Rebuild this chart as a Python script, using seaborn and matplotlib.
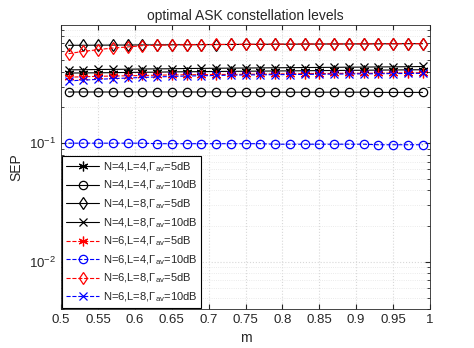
import numpy as np
import pandas as pd
import matplotlib
matplotlib.use("Agg")
import matplotlib.pyplot as plt
import seaborn as sns
from matplotlib.ticker import LogLocator, NullFormatter

sns.set_style("ticks")
plt.rcParams['font.family'] = ['Liberation Sans', 'DejaVu Sans']
plt.rcParams['mathtext.fontset'] = 'custom'
plt.rcParams['mathtext.rm'] = 'Liberation Sans'
plt.rcParams['mathtext.it'] = 'Liberation Sans:italic'
plt.rcParams['mathtext.bf'] = 'Liberation Sans:bold'

m = [0.51, 0.53, 0.55, 0.57, 0.59, 0.61, 0.63, 0.65, 0.67, 0.69, 0.71, 0.73, 0.75,
     0.77, 0.79, 0.81, 0.83, 0.85, 0.87, 0.89, 0.91, 0.93, 0.95, 0.97, 0.99]

n4l4_5 = [0.390, 0.391, 0.392, 0.393, 0.395, 0.396, 0.397, 0.399, 0.400, 0.401, 0.402, 0.403, 0.404,
          0.405, 0.406, 0.407, 0.408, 0.409, 0.410, 0.411, 0.412, 0.413, 0.414, 0.415, 0.416]
n4l4_10 = [0.270, 0.270, 0.270, 0.270, 0.270, 0.270, 0.270, 0.270, 0.270, 0.270, 0.270, 0.269, 0.269,
           0.269, 0.269, 0.269, 0.269, 0.269, 0.269, 0.269, 0.269, 0.268, 0.268, 0.268, 0.268]
n4l8_5 = [0.668, 0.669, 0.670, 0.671, 0.672, 0.673, 0.674, 0.675, 0.676, 0.677, 0.678, 0.679, 0.680,
          0.681, 0.682, 0.683, 0.684, 0.685, 0.686, 0.686, 0.687, 0.688, 0.689, 0.690, 0.690]
n4l8_10 = [0.415, 0.416, 0.418, 0.419, 0.420, 0.422, 0.423, 0.424, 0.426, 0.427, 0.428, 0.429, 0.430,
           0.431, 0.432, 0.433, 0.434, 0.435, 0.436, 0.437, 0.438, 0.439, 0.440, 0.441, 0.443]
n6l4_5 = [0.360, 0.363, 0.366, 0.368, 0.370, 0.372, 0.374, 0.376, 0.377, 0.378, 0.379, 0.380, 0.381,
          0.382, 0.383, 0.384, 0.385, 0.386, 0.387, 0.388, 0.388, 0.389, 0.390, 0.391, 0.392]
n6l4_10 = [0.100, 0.100, 0.100, 0.100, 0.100, 0.100, 0.099, 0.099, 0.099, 0.099, 0.099, 0.099, 0.099,
           0.099, 0.098, 0.098, 0.098, 0.098, 0.098, 0.098, 0.098, 0.097, 0.097, 0.097, 0.097]
n6l8_5 = [0.568, 0.594, 0.614, 0.634, 0.647, 0.664, 0.670, 0.674, 0.676, 0.678, 0.679, 0.680, 0.681,
          0.682, 0.683, 0.684, 0.685, 0.686, 0.686, 0.687, 0.688, 0.688, 0.689, 0.690, 0.690]
n6l8_10 = [0.335, 0.340, 0.345, 0.350, 0.354, 0.358, 0.362, 0.365, 0.368, 0.370, 0.372, 0.374, 0.376,
           0.377, 0.378, 0.379, 0.380, 0.381, 0.382, 0.383, 0.384, 0.385, 0.386, 0.387, 0.388]

labels = [r'N=4,L=4,$\Gamma_{\rm av}$=5dB', r'N=4,L=4,$\Gamma_{\rm av}$=10dB',
          r'N=4,L=8,$\Gamma_{\rm av}$=5dB', r'N=4,L=8,$\Gamma_{\rm av}$=10dB',
          r'N=6,L=4,$\Gamma_{\rm av}$=5dB', r'N=6,L=4,$\Gamma_{\rm av}$=10dB',
          r'N=6,L=8,$\Gamma_{\rm av}$=5dB', r'N=6,L=8,$\Gamma_{\rm av}$=10dB']
xtick_vals = [0.5, 0.55, 0.6, 0.65, 0.7, 0.75, 0.8, 0.85, 0.9, 0.95, 1.0]
xtick_labels = ['0.5', '0.55', '0.6', '0.65', '0.7', '0.75', '0.8', '0.85', '0.9', '0.95', '1']

series = [n4l4_5, n4l4_10, n4l8_5, n4l8_10, n6l4_5, n6l4_10, n6l8_5, n6l8_10]
colors = ['k', 'k', 'k', 'k', 'r', 'b', 'r', 'b']
markers = [(6, 2, 0), 'o', 'd', 'x', (6, 2, 0), 'o', 'd', 'x']
styles = ['-', '-', '-', '-', '--', '--', '--', '--']
msizes = [7, 6, 6.5, 6, 7, 6, 6.5, 6]

fig = plt.figure(figsize=(4.74, 3.48), dpi=100)
ax = fig.add_axes([0.129, 0.112, 0.778, 0.816])

for lab, s, c, mk, ls, ms in zip(labels, series, colors, markers, styles, msizes):
    df = pd.DataFrame({'m': m, 'SEP': s})
    sns.lineplot(data=df, x='m', y='SEP', ax=ax, color=c, marker=mk, linestyle=ls,
                 linewidth=0.8, markersize=ms, markerfacecolor='none', markeredgecolor=c,
                 markeredgewidth=0.9, label=lab)

ax.set_yscale('log')
ax.set_xlim(0.5, 1.0)
ax.set_ylim(0.004, 0.99)
ax.set_xticks(xtick_vals)
ax.set_xticklabels(xtick_labels)
ax.yaxis.set_major_locator(LogLocator(base=10, numticks=10))
ax.yaxis.set_minor_locator(LogLocator(base=10, subs=np.arange(2, 10), numticks=20))
ax.yaxis.set_minor_formatter(NullFormatter())

ax.grid(True, which='major', color='#d8d8d8', linestyle=':', linewidth=0.8)
ax.grid(True, which='minor', axis='y', color='#e4e4e4', linestyle=':', linewidth=0.6)
ax.tick_params(which='both', direction='in', top=True, right=True, labelsize=9.5, colors='#262626')
ax.tick_params(which='major', length=3.5)
ax.tick_params(which='minor', length=2)
for sp in ax.spines.values():
    sp.set_visible(True)
    sp.set_color('#262626')
    sp.set_linewidth(0.6)

ax.set_xlabel('m', fontsize=10)
ax.set_ylabel('SEP', fontsize=10)
ax.set_title('optimal ASK constellation levels', fontsize=10, pad=4)

leg = ax.legend(loc='lower left', fontsize=8, frameon=True, fancybox=False,
                edgecolor='k', framealpha=1, borderaxespad=0.1, handlelength=3.0,
                labelspacing=0.45, borderpad=0.35, handletextpad=0.3)
leg.get_frame().set_linewidth(0.8)

fig.savefig('out.png', dpi=100)
